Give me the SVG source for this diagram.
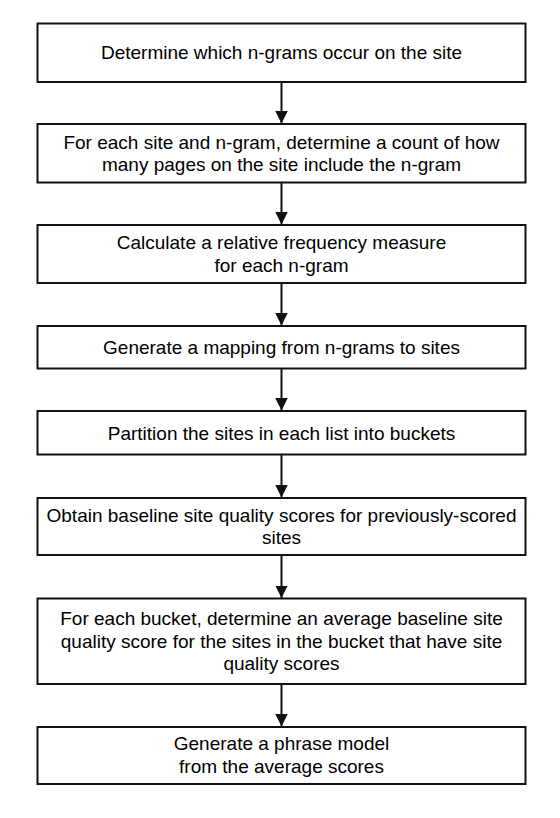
<svg xmlns="http://www.w3.org/2000/svg" width="560" height="818" viewBox="0 0 560 818">
<style>
.box{fill:#fff;stroke:#111;stroke-width:2}
.t{font-family:"Liberation Sans",Arial,sans-serif;font-size:19px;fill:#000;text-anchor:middle}
.c{stroke:#111;stroke-width:2;fill:none}
</style>
<defs>
<marker id="ah" markerUnits="userSpaceOnUse" markerWidth="13" markerHeight="13" refX="12.5" refY="6.5" orient="auto" viewBox="0 0 13 13">
<path d="M0,0.25 L12.5,6.5 L0,12.75 Z" fill="#111"/>
</marker>
</defs>
<rect width="560" height="818" fill="#fff"/>
<g id="connectors">
<path class="c" d="M281.5,82 V123.5" marker-end="url(#ah)"/>
<path class="c" d="M281.5,182.5 V224.5" marker-end="url(#ah)"/>
<path class="c" d="M281.5,283 V325.5" marker-end="url(#ah)"/>
<path class="c" d="M281.5,368.5 V410.5" marker-end="url(#ah)"/>
<path class="c" d="M281.5,454.5 V497.5" marker-end="url(#ah)"/>
<path class="c" d="M281.5,555 V598" marker-end="url(#ah)"/>
<path class="c" d="M281.5,684 V726.5" marker-end="url(#ah)"/>
</g>
<g id="n1"><rect class="box" x="37.5" y="23.5" width="488" height="58.5"/>
<text class="t" x="281.5" y="59">Determine which n-grams occur on the site</text></g>
<g id="n2"><rect class="box" x="37.5" y="124" width="488" height="58.5"/>
<text class="t" x="281.5" y="148.5">For each site and n-gram, determine a count of how</text>
<text class="t" x="281.5" y="171">many pages on the site include the n-gram</text></g>
<g id="n3"><rect class="box" x="37.5" y="225" width="488" height="58"/>
<text class="t" x="281.5" y="249">Calculate a relative frequency measure</text>
<text class="t" x="281.5" y="271.5">for each n-gram</text></g>
<g id="n4"><rect class="box" x="37.5" y="326" width="488" height="42.5"/>
<text class="t" x="281.5" y="354">Generate a mapping from n-grams to sites</text></g>
<g id="n5"><rect class="box" x="37.5" y="411" width="488" height="43.5"/>
<text class="t" x="281.5" y="439.5">Partition the sites in each list into buckets</text></g>
<g id="n6"><rect class="box" x="37.5" y="498" width="488" height="57"/>
<text class="t" x="281.5" y="521.5">Obtain baseline site quality scores for previously-scored</text>
<text class="t" x="281.5" y="544">sites</text></g>
<g id="n7"><rect class="box" x="37.5" y="598.5" width="488" height="85.5"/>
<text class="t" x="281.5" y="625">For each bucket, determine an average baseline site</text>
<text class="t" x="281.5" y="647.5">quality score for the sites in the bucket that have site</text>
<text class="t" x="281.5" y="670">quality scores</text></g>
<g id="n8"><rect class="box" x="37.5" y="727" width="488" height="57"/>
<text class="t" x="281.5" y="750">Generate a phrase model</text>
<text class="t" x="281.5" y="772.5">from the average scores</text></g>
</svg>
